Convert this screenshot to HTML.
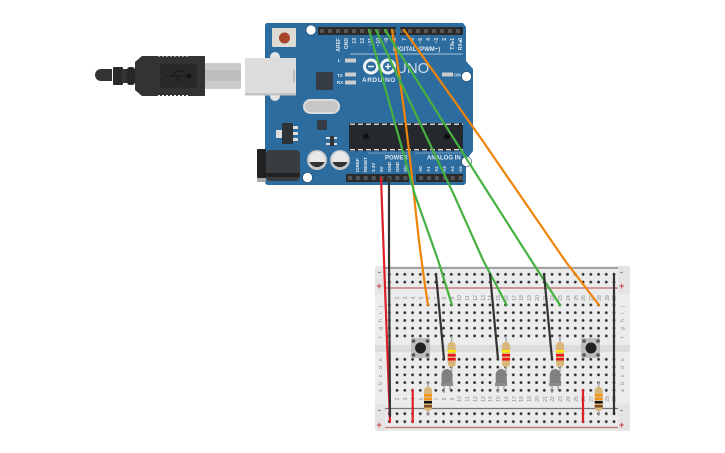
<!DOCTYPE html>
<html><head><meta charset="utf-8"><style>
html,body{margin:0;padding:0;background:#fff}
svg{display:block}
text{font-family:"Liberation Sans",sans-serif}
.w{fill:#dfe8ef;font-weight:bold}
.bb{fill:#8a8a8a;font-size:5px}
</style></head><body>
<svg width="725" height="453" viewBox="0 0 725 453" xmlns="http://www.w3.org/2000/svg">
<defs>
<pattern id="pin" x="318" y="27" width="8" height="8" patternUnits="userSpaceOnUse"><rect width="8" height="8" fill="#2b2b2b"/><rect x="2" y="2" width="4" height="4" fill="#555"/></pattern>
<pattern id="pin2" x="346" y="174" width="7.9" height="8" patternUnits="userSpaceOnUse"><rect width="8" height="8" fill="#2b2b2b"/><rect x="2" y="2" width="4" height="4" fill="#555"/></pattern>
<pattern id="hole" x="385.4" y="301" width="7.75" height="7.75" patternUnits="userSpaceOnUse"><circle cx="3.9" cy="3.9" r="1.4" fill="#2e2e2e"/></pattern>
<pattern id="hole2" x="385.4" y="355.4" width="7.75" height="7.75" patternUnits="userSpaceOnUse"><circle cx="3.9" cy="3.9" r="1.4" fill="#2e2e2e"/></pattern>
<pattern id="pw" x="385.4" y="270.4" width="7.75" height="7.75" patternUnits="userSpaceOnUse"><circle cx="3.9" cy="3.9" r="1.4" fill="#2e2e2e"/></pattern>
<pattern id="pw2" x="385.4" y="409.8" width="7.75" height="7.95" patternUnits="userSpaceOnUse"><circle cx="3.9" cy="3.9" r="1.4" fill="#2e2e2e"/></pattern>
<pattern id="ic" x="349" y="123" width="8" height="28" patternUnits="userSpaceOnUse"><rect x="1" y="0.5" width="5" height="1.4" fill="#ddd"/><rect x="1" y="26" width="5" height="1.4" fill="#ddd"/></pattern>
</defs>

<!-- USB cable -->
<path d="M112 69H101a6 6 0 0 0 0 12H112z" fill="#333"/>
<rect x="113" y="67" width="10" height="18" rx="1" fill="#2a2a2a"/>
<rect x="122" y="69" width="14" height="14" fill="#333"/>
<rect x="127" y="67" width="8" height="18" rx="3" fill="#262626"/>
<path d="M135 62l7-6h63v40h-63l-7-6z" fill="#333"/>
<rect x="160" y="64" width="37" height="24" fill="#292929"/>
<path d="M158 56h2M162 56h2M166 56h2M170 56h2M174 56h2M178 56h2M182 56h2M186 56h2M158 95.500h2M162 95.500h2M166 95.500h2M170 95.500h2M174 95.500h2M178 95.500h2M182 95.500h2M186 95.500h2" stroke="#fff" stroke-width="1"/>
<path d="M166 76H190M172 76l5-5h6M176 76l4 4h-5" stroke="#171717" stroke-width="1" fill="none"/>
<circle cx="189" cy="76" r="2.600" fill="#171717"/>
<rect x="205" y="63" width="36" height="26" rx="1" fill="#cbcbcb"/>
<rect x="205" y="70" width="36" height="11" fill="#bebebe"/>

<!-- Arduino board -->
<path d="M267 23H463L466 27V61L473 69V151L466 160V182a3 3 0 0 1-3 3H268a3 3 0 0 1-3-3V26a3 3 0 0 1 2-3z" fill="#2d6c9e"/>
<circle cx="311" cy="30" r="5" fill="#fff" stroke="#1f3f5c" stroke-width="0.600"/>
<circle cx="466.500" cy="76.500" r="5" fill="#fff" stroke="#1f3f5c" stroke-width="0.600"/>
<circle cx="466.500" cy="161.500" r="5" fill="#fff" stroke="#1f3f5c" stroke-width="0.600"/>
<circle cx="307.500" cy="177.500" r="5" fill="#fff" stroke="#1f3f5c" stroke-width="0.600"/>
<!-- reset -->
<rect x="272" y="28" width="24" height="19" rx="1" fill="#dedad4"/>
<circle cx="284.500" cy="38" r="5.500" fill="#a8452b"/>
<!-- USB-B socket -->
<circle cx="275" cy="57" r="5" fill="#e3e3e3"/><circle cx="275" cy="96" r="5" fill="#e3e3e3"/>
<circle cx="303" cy="105" r="0" fill="none"/>
<rect x="245" y="58" width="51" height="37" fill="#dcdcdc"/>
<rect x="245" y="93" width="51" height="2.500" fill="#c4c4c4"/>
<rect x="293" y="70" width="2" height="12" fill="#bbb"/>
<!-- regulator -->
<rect x="282" y="123" width="11" height="21" fill="#2e3338"/>
<rect x="276" y="130" width="6" height="8" fill="#ddd"/>
<rect x="293" y="126" width="5" height="3" fill="#ddd"/><rect x="293" y="132" width="5" height="3" fill="#ddd"/><rect x="293" y="138" width="5" height="3" fill="#ddd"/>
<!-- power jack -->
<rect x="257" y="149" width="9" height="29" rx="1" fill="#222"/>
<rect x="257" y="178" width="9" height="4" fill="#aaa"/>
<rect x="266" y="150" width="34" height="31" rx="4" fill="#3a3d40"/>
<rect x="257" y="173" width="43" height="4" fill="#222"/>
<!-- chips -->
<rect x="316" y="72" width="17" height="18" rx="1" fill="#353c43"/>
<rect x="317" y="120" width="10" height="10" rx="1" fill="#353c43"/>
<rect x="330" y="136" width="4" height="10" fill="#2f3338"/>
<g fill="#ddd"><rect x="326" y="137" width="4" height="2"/><rect x="326" y="143" width="4" height="2"/><rect x="334" y="137" width="3" height="2"/><rect x="334" y="143" width="3" height="2"/></g>
<!-- crystal -->
<rect x="303" y="99" width="37" height="15" rx="7.500" fill="#dcdcdc"/>
<rect x="305" y="101" width="33" height="11" rx="5.500" fill="#c6c6c6"/>
<!-- caps -->
<g><circle cx="317" cy="160" r="10" fill="#c9c9c9"/><circle cx="317" cy="159.500" r="8" fill="#e8e8e8"/><path d="M309.500 162h15a8 8 0 0 1-15 0z" fill="#333"/></g>
<g><circle cx="340" cy="160" r="10" fill="#c9c9c9"/><circle cx="340" cy="159.500" r="8" fill="#e8e8e8"/><path d="M332.500 162h15a8 8 0 0 1-15 0z" fill="#333"/></g>
<!-- IC -->
<rect x="349" y="123" width="114" height="28" rx="1" fill="#25282c"/>
<rect x="349" y="123" width="114" height="28" fill="url(#ic)"/>
<circle cx="366" cy="136.500" r="3" fill="#111"/><circle cx="447" cy="136.500" r="3" fill="#111"/>
<!-- headers -->
<rect x="318" y="27" width="78" height="8" fill="url(#pin)"/>
<rect x="400" y="27" width="63" height="8" fill="url(#pin)"/>
<rect x="346" y="174" width="63" height="8" fill="url(#pin2)"/>
<rect x="416" y="174" width="47" height="8" fill="url(#pin2)"/>
<!-- LEDs on board -->
<rect x="345" y="58.500" width="11" height="4" fill="#ccc"/>
<rect x="345" y="72.500" width="11" height="4" fill="#ccc"/>
<rect x="345" y="80.500" width="11" height="4" fill="#ccc"/>
<rect x="442" y="72.500" width="11" height="4" fill="#ccc"/>
<g class="w" font-size="4.500">
<text x="338" y="62">L</text><text x="337" y="77">TX</text><text x="337" y="84">RX</text><text x="454" y="76.500">ON</text>
</g>
<!-- silk -->
<path d="M350 54H463" stroke="#a9c3d6" stroke-width="1"/>
<path d="M368 153H410M415 153H463" stroke="#6f9bbd" stroke-width="1"/>
<text x="393" y="51" class="w" font-size="6">DIGITAL (PWM~)</text>
<text x="385" y="159.500" class="w" font-size="6">POWER</text>
<text x="427" y="159.500" class="w" font-size="6">ANALOG IN</text>
<g class="w" font-size="5" text-anchor="end">
<text transform="translate(340,38) rotate(-90)">AREF</text>
<text transform="translate(348,38) rotate(-90)">GND</text>
<text transform="translate(356,38) rotate(-90)">13</text>
<text transform="translate(364,38) rotate(-90)">12</text>
<text transform="translate(372,38) rotate(-90)">~11</text>
<text transform="translate(380,38) rotate(-90)">~10</text>
<text transform="translate(388,38) rotate(-90)">~9</text>
<text transform="translate(396,38) rotate(-90)">8</text>
<text transform="translate(406,38) rotate(-90)">7</text>
<text transform="translate(414,38) rotate(-90)">~6</text>
<text transform="translate(422,38) rotate(-90)">~5</text>
<text transform="translate(430,38) rotate(-90)">4</text>
<text transform="translate(438,38) rotate(-90)">~3</text>
<text transform="translate(446,38) rotate(-90)">2</text>
<text transform="translate(454,38) rotate(-90)">TX▸1</text>
<text transform="translate(462,38) rotate(-90)">RX◂0</text>
</g>
<g class="w" font-size="4.500">
<text transform="translate(359,172) rotate(-90)">IOREF</text>
<text transform="translate(367,172) rotate(-90)">RESET</text>
<text transform="translate(375,172) rotate(-90)">3.3V</text>
<text transform="translate(383,172) rotate(-90)">5V</text>
<text transform="translate(391,172) rotate(-90)">GND</text>
<text transform="translate(399,172) rotate(-90)">GND</text>
<text transform="translate(407,172) rotate(-90)">Vin</text>
<text transform="translate(422,172) rotate(-90)">A0</text>
<text transform="translate(430,172) rotate(-90)">A1</text>
<text transform="translate(438,172) rotate(-90)">A2</text>
<text transform="translate(446,172) rotate(-90)">A3</text>
<text transform="translate(454,172) rotate(-90)">A4</text>
<text transform="translate(462,172) rotate(-90)">A5</text>
</g>
<!-- logo -->
<g fill="none" stroke="#eef3f7" stroke-width="3">
<circle cx="371" cy="66.500" r="6.500"/><circle cx="388" cy="66.500" r="6.500"/>
</g>
<path d="M368 66.500h6M385 66.500h6M388 63.500v6" stroke="#eef3f7" stroke-width="1.500"/>
<text x="362" y="82" class="w" font-size="6.500" letter-spacing="0.500">ARDUINO</text>
<text x="396" y="73" fill="#cfdde8" font-size="15">UNO</text>

<!-- Breadboard -->
<rect x="375" y="266" width="255" height="165" rx="2" fill="#e4e4e4"/>
<rect x="385" y="266" width="233" height="28" fill="#ebebeb"/>
<rect x="385" y="404" width="233" height="27" fill="#ebebeb"/>
<rect x="375" y="294" width="255" height="110" fill="#ececec"/>
<rect x="375" y="345" width="255" height="7" fill="#dcdcdc"/>
<path d="M385 268H618" stroke="#777" stroke-width="1.200"/>
<path d="M385 288H618" stroke="#c07d7d" stroke-width="1.500"/>
<path d="M385 408.500H618" stroke="#777" stroke-width="1.200"/>
<path d="M385 427.500H618" stroke="#c07d7d" stroke-width="1.500"/>
<rect x="385.400" y="301" width="232.500" height="38.750" fill="url(#hole)"/>
<rect x="385.400" y="355.400" width="232.500" height="38.750" fill="url(#hole2)"/>
<rect x="385.400" y="270.400" width="232.500" height="15.500" fill="url(#pw)"/>
<rect x="385.400" y="409.800" width="232.500" height="15.900" fill="url(#pw2)"/>
<g font-size="9" font-weight="bold">
<text x="378" y="275" fill="#777">-</text><text x="376.500" y="289" fill="#c44">+</text>
<text x="378" y="413" fill="#777">-</text><text x="376.500" y="428" fill="#c44">+</text>
<text x="620" y="275" fill="#777">-</text><text x="619" y="289" fill="#c44">+</text>
<text x="620" y="413" fill="#777">-</text><text x="619" y="428" fill="#c44">+</text>
</g>
<g class="bb">
<text transform="translate(382,307) rotate(-90)">j</text><text transform="translate(382,314) rotate(-90)">i</text><text transform="translate(382,322) rotate(-90)">h</text><text transform="translate(382,330) rotate(-90)">g</text><text transform="translate(382,338) rotate(-90)">f</text>
<text transform="translate(382,361) rotate(-90)">e</text><text transform="translate(382,369) rotate(-90)">d</text><text transform="translate(382,377) rotate(-90)">c</text><text transform="translate(382,385) rotate(-90)">b</text><text transform="translate(382,392) rotate(-90)">a</text>
<text transform="translate(624,307) rotate(-90)">j</text><text transform="translate(624,314) rotate(-90)">i</text><text transform="translate(624,322) rotate(-90)">h</text><text transform="translate(624,330) rotate(-90)">g</text><text transform="translate(624,338) rotate(-90)">f</text>
<text transform="translate(624,361) rotate(-90)">e</text><text transform="translate(624,369) rotate(-90)">d</text><text transform="translate(624,377) rotate(-90)">c</text><text transform="translate(624,385) rotate(-90)">b</text><text transform="translate(624,392) rotate(-90)">a</text>
</g>
<g class="bb" text-anchor="middle" font-size="4.500">
<text transform="translate(399,298) rotate(-90)">2</text><text transform="translate(407,298) rotate(-90)">3</text><text transform="translate(415,298) rotate(-90)">4</text><text transform="translate(423,298) rotate(-90)">5</text><text transform="translate(430,298) rotate(-90)">6</text><text transform="translate(438,298) rotate(-90)">7</text><text transform="translate(446,298) rotate(-90)">8</text><text transform="translate(454,298) rotate(-90)">9</text><text transform="translate(461,298) rotate(-90)">10</text><text transform="translate(469,298) rotate(-90)">11</text><text transform="translate(477,298) rotate(-90)">12</text><text transform="translate(485,298) rotate(-90)">13</text><text transform="translate(492,298) rotate(-90)">14</text><text transform="translate(500,298) rotate(-90)">15</text><text transform="translate(508,298) rotate(-90)">16</text><text transform="translate(516,298) rotate(-90)">17</text><text transform="translate(523,298) rotate(-90)">18</text><text transform="translate(531,298) rotate(-90)">19</text><text transform="translate(539,298) rotate(-90)">20</text><text transform="translate(547,298) rotate(-90)">21</text><text transform="translate(554,298) rotate(-90)">22</text><text transform="translate(562,298) rotate(-90)">23</text><text transform="translate(570,298) rotate(-90)">24</text><text transform="translate(578,298) rotate(-90)">25</text><text transform="translate(585,298) rotate(-90)">26</text><text transform="translate(593,298) rotate(-90)">27</text><text transform="translate(601,298) rotate(-90)">28</text><text transform="translate(609,298) rotate(-90)">29</text><text transform="translate(616,298) rotate(-90)">30</text>
<text transform="translate(399,399) rotate(-90)">2</text><text transform="translate(407,399) rotate(-90)">3</text><text transform="translate(415,399) rotate(-90)">4</text><text transform="translate(423,399) rotate(-90)">5</text><text transform="translate(430,399) rotate(-90)">6</text><text transform="translate(438,399) rotate(-90)">7</text><text transform="translate(446,399) rotate(-90)">8</text><text transform="translate(454,399) rotate(-90)">9</text><text transform="translate(461,399) rotate(-90)">10</text><text transform="translate(469,399) rotate(-90)">11</text><text transform="translate(477,399) rotate(-90)">12</text><text transform="translate(485,399) rotate(-90)">13</text><text transform="translate(492,399) rotate(-90)">14</text><text transform="translate(500,399) rotate(-90)">15</text><text transform="translate(508,399) rotate(-90)">16</text><text transform="translate(516,399) rotate(-90)">17</text><text transform="translate(523,399) rotate(-90)">18</text><text transform="translate(531,399) rotate(-90)">19</text><text transform="translate(539,399) rotate(-90)">20</text><text transform="translate(547,399) rotate(-90)">21</text><text transform="translate(554,399) rotate(-90)">22</text><text transform="translate(562,399) rotate(-90)">23</text><text transform="translate(570,399) rotate(-90)">24</text><text transform="translate(578,399) rotate(-90)">25</text><text transform="translate(585,399) rotate(-90)">26</text><text transform="translate(593,399) rotate(-90)">27</text><text transform="translate(601,399) rotate(-90)">28</text><text transform="translate(609,399) rotate(-90)">29</text><text transform="translate(616,399) rotate(-90)">30</text>
</g>

<!-- Buttons -->
<g><rect x="411" y="338" width="19" height="20" rx="1" fill="#bdbdbd"/><circle cx="420.500" cy="348" r="5.500" fill="#222"/><g fill="#555"><circle cx="413.500" cy="341" r="1.800"/><circle cx="427.500" cy="341" r="1.800"/><circle cx="413.500" cy="355" r="1.800"/><circle cx="427.500" cy="355" r="1.800"/></g></g>
<g><rect x="581" y="338" width="19" height="20" rx="1" fill="#bdbdbd"/><circle cx="591" cy="348" r="5.500" fill="#222"/><g fill="#555"><circle cx="584" cy="341" r="1.800"/><circle cx="598" cy="341" r="1.800"/><circle cx="584" cy="355" r="1.800"/><circle cx="598" cy="355" r="1.800"/></g></g>

<!-- Resistors upper -->
<path d="M451.700 336V372M506 336V372M560 336V372" stroke="#aaa" stroke-width="1.500"/>
<g fill="#d9b779"><rect x="447.700" y="342" width="8" height="25" rx="3.500"/><rect x="502" y="342" width="8" height="25" rx="3.500"/><rect x="556" y="342" width="8" height="25" rx="3.500"/></g>
<g fill="#ffe600"><rect x="447.700" y="350" width="8" height="2.500"/><rect x="502" y="350" width="8" height="2.500"/><rect x="556" y="350" width="8" height="2.500"/></g>
<g fill="#e8141c"><rect x="447.700" y="354" width="8" height="2.500"/><rect x="447.700" y="358" width="8" height="2.500"/><rect x="502" y="354" width="8" height="2.500"/><rect x="502" y="358" width="8" height="2.500"/><rect x="556" y="354" width="8" height="2.500"/><rect x="556" y="358" width="8" height="2.500"/></g>
<!-- Resistors lower -->
<path d="M428 381V416M598.700 381V416" stroke="#aaa" stroke-width="1.500"/>
<g fill="#d9b779"><rect x="424" y="387" width="8" height="24" rx="3.500"/><rect x="594.700" y="387" width="8" height="24" rx="3.500"/></g>
<g fill="#f7941d"><rect x="424" y="394" width="8" height="2.500"/><rect x="424" y="398" width="8" height="2"/><rect x="594.700" y="394" width="8" height="2.500"/><rect x="594.700" y="398" width="8" height="2"/></g>
<g fill="#111"><rect x="424" y="401" width="8" height="2.500"/><rect x="594.700" y="401" width="8" height="2.500"/></g>
<g fill="#7a4a1a"><rect x="424" y="405" width="8" height="2.500"/><rect x="594.700" y="405" width="8" height="2.500"/></g>

<!-- LEDs -->
<path d="M444 385V393M450 385V390M498 385V393M504 385V390M552 385V393M558 385V390" stroke="#999" stroke-width="1.200" fill="none"/>
<path d="M441.500 385V375a5.500 6 0 0 1 11 0V385z" fill="#808080"/><rect x="441" y="383" width="12" height="3" fill="#8c8c8c"/>
<path d="M495.700 385V375a5.500 6 0 0 1 11 0V385z" fill="#808080"/><rect x="495" y="383" width="12" height="3" fill="#8c8c8c"/>
<path d="M549.700 385V375a5.500 6 0 0 1 11 0V385z" fill="#808080"/><rect x="549" y="383" width="12" height="3" fill="#8c8c8c"/>

<!-- Wires -->
<g fill="none" stroke-linecap="round" stroke-linejoin="round">
<g stroke="#ee8408" stroke-width="2.200">
<path d="M392 30Q402 85 414 195Q420 255 428 305"/>
<path d="M404 30L480 137L566 262L599 305"/>
</g>
<g stroke="#46b040" stroke-width="2.200">
<path d="M369 30L415 195L438 260L452 305"/>
<path d="M376 30L454 195L483 260L506.700 305"/>
<path d="M385 30L480 180L531 260L560 305"/>
</g>
<g stroke="#dd1f28" stroke-width="2.200">
<path d="M381 178L384 260L390 422"/>
<path d="M412.700 390V422"/>
<path d="M583 390V422"/>
</g>
<g stroke="#333" stroke-width="2.200">
<path d="M389 178V260L390 416"/>
<path d="M436 274L444 359"/>
<path d="M490 274L498 359"/>
<path d="M544 274L552 359"/>
<path d="M614 274V414"/>
</g>
</g>
</svg>
</body></html>
